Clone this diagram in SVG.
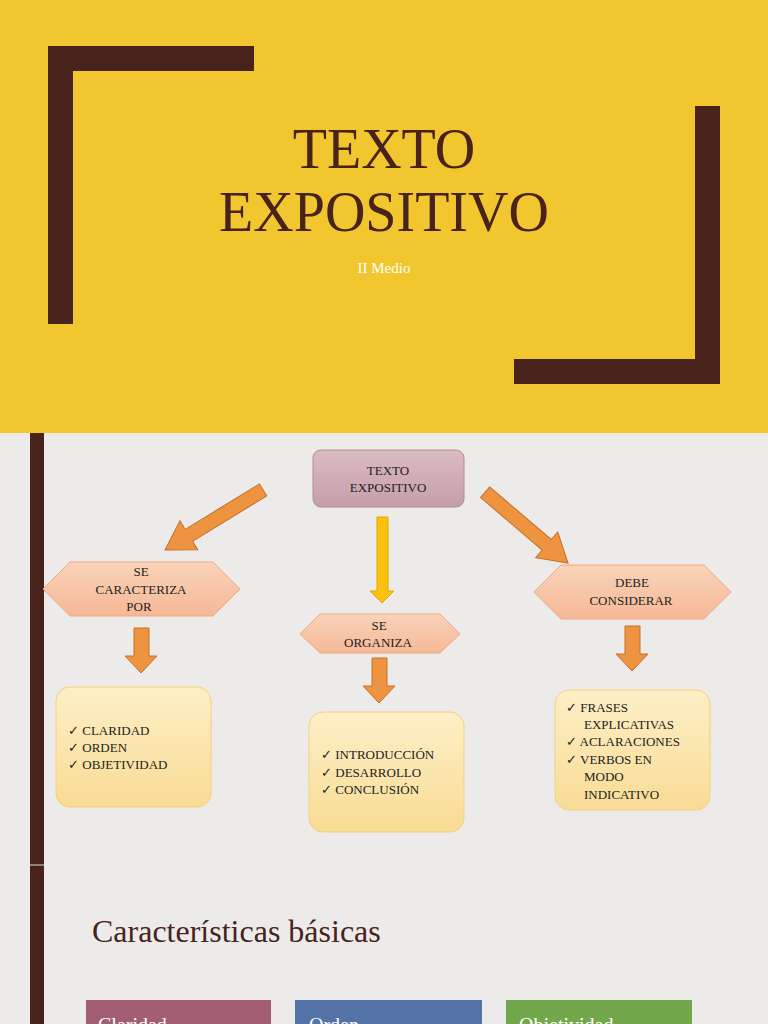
<svg xmlns="http://www.w3.org/2000/svg" width="768" height="1024" viewBox="0 0 768 1024">
<defs>
<style>
.t{font-family:"Liberation Serif",serif;fill:#222;font-size:13px}
.hex{fill:#f8c9ab;stroke:#f0a880;stroke-width:1}
.box{fill:#fbe3a8;stroke:#f5cf7a;stroke-width:1}
.arr{fill:#ee9440;stroke:#c4702a;stroke-width:1}
</style>
<linearGradient id="bg" x1="0" y1="0" x2="0" y2="1"><stop offset="0" stop-color="#fdefc6"/><stop offset="1" stop-color="#f9dc95"/></linearGradient>
<linearGradient id="hg" x1="0" y1="0" x2="0" y2="1"><stop offset="0" stop-color="#f9d3b9"/><stop offset="1" stop-color="#f5b896"/></linearGradient>
<linearGradient id="tg" x1="0" y1="0" x2="0" y2="1"><stop offset="0" stop-color="#dbbcc4"/><stop offset="1" stop-color="#c59da7"/></linearGradient>
</defs>
<rect width="768" height="433" fill="#f2c62f"/>
<rect y="433" width="768" height="591" fill="#edebe9"/>
<path d="M48,46H254V71H73V324H48Z" fill="#47231c"/>
<path d="M720,106V384H514V359H695V106Z" fill="#47231c"/>
<text x="384" y="168" text-anchor="middle" font-family="Liberation Serif,serif" font-size="56" fill="#47231c">TEXTO</text>
<text x="384" y="231" text-anchor="middle" font-family="Liberation Serif,serif" font-size="56" fill="#47231c">EXPOSITIVO</text>
<text x="384" y="273" text-anchor="middle" font-family="Liberation Serif,serif" font-size="15" fill="#fff">II Medio</text>
<rect x="30" y="433" width="14" height="591" fill="#47231c"/>
<line x1="30" y1="865" x2="44" y2="865" stroke="#ddd" stroke-width="1"/>
<g id="connectors">
<polygon class="arr" transform="translate(165,550) rotate(148.5)" points="0,0 -28,-17 -28,-7 -115,-7 -115,7 -28,7 -28,17" transform-origin="0 0"/>
<polygon class="arr" transform="translate(568,563) rotate(40.5)" points="0,0 -28,-17 -28,-7 -109,-7 -109,7 -28,7 -28,17"/>
<polygon fill="#fcc10e" stroke="#e0a800" points="377,517 388,517 388,591 394,591 382,603 370,591 377,591"/>
<polygon class="arr" points="134,628 149,628 149,656 157,656 141,673 125,656 134,656"/>
<polygon class="arr" points="372,658 387,658 387,686 395,686 379,703 363,686 372,686"/>
<polygon class="arr" points="625,626 640,626 640,654 648,654 632,671 616,654 625,654"/>
</g>
<g id="top"><rect x="313" y="450" width="151" height="57" rx="8" fill="url(#tg)" stroke="#b58a96"/>
<text class="t" x="388" y="475" text-anchor="middle">TEXTO</text><text class="t" x="388" y="492" text-anchor="middle">EXPOSITIVO</text></g>
<g id="hex1"><polygon fill="url(#hg)" stroke="#f0a880" points="43,589 70,562 213,562 240,589 213,616 70,616"/>
<text class="t" x="141" y="576" text-anchor="middle">SE</text><text class="t" x="141" y="594" text-anchor="middle">CARACTERIZA</text><text class="t" x="139" y="611" text-anchor="middle">POR</text></g>
<g id="hex2"><polygon fill="url(#hg)" stroke="#f0a880" points="300,634 320,614 440,614 460,634 440,653 320,653"/>
<text class="t" x="379" y="630" text-anchor="middle">SE</text><text class="t" x="378" y="647" text-anchor="middle">ORGANIZA</text></g>
<g id="hex3"><polygon fill="url(#hg)" stroke="#f0a880" points="534,592 561,565 704,565 731,592 704,619 561,619"/>
<text class="t" x="632" y="587" text-anchor="middle">DEBE</text><text class="t" x="631" y="605" text-anchor="middle">CONSIDERAR</text></g>
<g id="box1"><rect x="56" y="687" width="155" height="120" rx="14" fill="url(#bg)" stroke="#f5cf7a"/>
<text class="t" x="68" y="735">✓ CLARIDAD</text><text class="t" x="68" y="752">✓ ORDEN</text><text class="t" x="68" y="769">✓ OBJETIVIDAD</text></g>
<g id="box2"><rect x="309" y="712" width="155" height="120" rx="14" fill="url(#bg)" stroke="#f5cf7a"/>
<text class="t" x="321" y="759">✓ INTRODUCCIÓN</text><text class="t" x="321" y="777">✓ DESARROLLO</text><text class="t" x="321" y="794">✓ CONCLUSIÓN</text></g>
<g id="box3"><rect x="555" y="690" width="155" height="120" rx="14" fill="url(#bg)" stroke="#f5cf7a"/>
<text class="t" x="566" y="712">✓ FRASES</text><text class="t" x="584" y="729">EXPLICATIVAS</text><text class="t" x="566" y="746">✓ ACLARACIONES</text><text class="t" x="566" y="764">✓ VERBOS EN</text><text class="t" x="584" y="781">MODO</text><text class="t" x="584" y="799">INDICATIVO</text></g>
<text x="92" y="942" font-family="Liberation Serif,serif" font-size="32" fill="#47231c">Características básicas</text>
<g id="c1"><rect x="86" y="1000" width="185" height="30" fill="#a35e73"/><text x="98" y="1032" font-family="Liberation Serif,serif" font-size="20" fill="#fff">Claridad</text></g>
<g id="c2"><rect x="295" y="1000" width="187" height="30" fill="#5372a5"/><text x="309" y="1032" font-family="Liberation Serif,serif" font-size="20" fill="#fff">Orden</text></g>
<g id="c3"><rect x="506" y="1000" width="186" height="30" fill="#72a84b"/><text x="519" y="1032" font-family="Liberation Serif,serif" font-size="20" fill="#fff">Objetividad</text></g>
</svg>
